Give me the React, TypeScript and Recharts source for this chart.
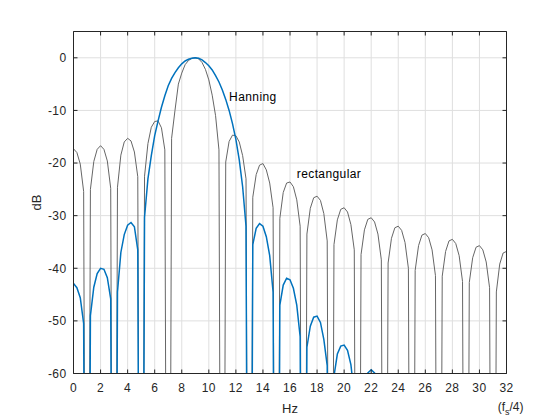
import React from "react";
import {
  LineChart,
  Line,
  XAxis,
  YAxis,
  CartesianGrid,
  ReferenceDot,
  Label,
} from "recharts";

// spectra sampled every 0.25 Hz from 0 to 32; a sample that lands in a null
// is far below the -60 dB floor, so it is marked with NULL_DB
const NULL_DB = -200;
const freqStep = 0.25;

const rectangularDb = [
  -17.3, -18.0, -20.2, -25.4, NULL_DB,
  -25.0, -19.7, -17.4, -16.7, -17.4, -19.6, -24.8, NULL_DB,
  -24.6, -18.5, -16.0, -15.3, -15.8, -17.9, -22.6, NULL_DB,
  -22.5, -16.3, -13.2, -12.1, -12.0, -13.3, -17.5, NULL_DB,
  -15.3, -10.0, -5.0, -2.9, -1.3, -0.5, -0.1, 0, -0.2, -0.9, -2.2, -4.2, -7.1, -11.0, -17.5, NULL_DB,
  -19.8, -15.9, -14.7, -14.8, -16.0, -18.6, -23.0, NULL_DB,
  -26.5, -22.2, -20.4, -20.1, -21.3, -23.8, -28.5, NULL_DB,
  -30.5, -25.6, -23.8, -23.6, -24.5, -27.0, -32.0, NULL_DB,
  -33.5, -28.6, -26.6, -26.3, -27.1, -29.6, -34.8, NULL_DB,
  -35.5, -30.8, -28.8, -28.5, -29.3, -31.7, -36.5, NULL_DB,
  -37.4, -32.7, -30.7, -30.4, -31.2, -33.5, -38.4, NULL_DB,
  -39.0, -34.3, -32.3, -32.0, -32.8, -35.1, -40.0, NULL_DB,
  -40.4, -35.7, -33.7, -33.4, -34.2, -36.5, -41.4, NULL_DB,
  -41.5, -36.8, -34.8, -34.5, -35.3, -37.6, -42.5, NULL_DB,
  -42.7, -38.0, -36.0, -35.7, -36.5, -38.8, -43.7, NULL_DB,
  -44.5, -39.2, -37.1, -36.8,
];

// the Hanning side lobes past 23 Hz are all under the floor
const hanningDb = [
  -42.9, -43.7, -45.6, -50.5, NULL_DB,
  -49.0, -43.6, -41.0, -40.0, -40.2, -41.8, -45.8, NULL_DB,
  -44.5, -37.0, -33.6, -31.8, -31.3, -32.1, -36.5, NULL_DB,
  -30.3, -23.0, -18.6, -14.8, -12.0, -9.4, -7.2, -5.3, -3.9, -2.8, -1.9, -1.15,
  -0.6, -0.28, -0.07, 0, -0.1, -0.4, -0.9, -1.5, -2.3, -3.4, -4.6, -6.1, -7.9,
  -10.0, -12.5, -15.5, -19.4, -24.5, -32.0, NULL_DB,
  -35.5, -32.4, -31.5, -32.0, -34.0, -37.6, -44.5, NULL_DB,
  -47.0, -43.2, -41.9, -42.2, -43.8, -47.0, -53.0, NULL_DB,
  -55.0, -51.0, -49.3, -49.1, -50.3, -53.5, -58.5, NULL_DB,
  -60.5, -56.3, -54.8, -54.6, -55.6, -58.3, -64.0, NULL_DB,
  -63.0, -61.0, -59.9, -59.3, -59.9, -61.5, -66.0, NULL_DB,
];

const xTicks = [0, 2, 4, 6, 8, 10, 12, 14, 16, 18, 20, 22, 24, 26, 28, 30, 32];
const yTicks = [-60, -50, -40, -30, -20, -10, 0];

const data = rectangularDb.map((rect, i) => ({
  f: i * freqStep,
  rect,
  hann: i < hanningDb.length ? hanningDb[i] : null,
}));

const AXIS = "#262626";
const FONT = "'Liberation Sans', Arial, Helvetica, sans-serif";

// plot box edges in px (follow from the chart margins and axis sizes below)
const BOX = { left: 73.5, top: 31.5, right: 506.5, bottom: 373.5 };
const TICK = 4;

// bottom tick label, plus the matching inward tick on the top edge;
// the first and last ticks also draw the top and right edges of the box
const XTick = (props: any) => {
  const { x, y, payload } = props;
  const v = payload.value;
  return (
    <g>
      <line x1={x} x2={x} y1={BOX.top} y2={BOX.top + TICK} stroke={AXIS} strokeWidth={1} />
      {v === xTicks[0] && (
        <line x1={BOX.left} x2={BOX.right} y1={BOX.top} y2={BOX.top} stroke={AXIS} strokeWidth={1} />
      )}
      {v === xTicks[xTicks.length - 1] && (
        <line x1={BOX.right} x2={BOX.right} y1={BOX.top} y2={BOX.bottom} stroke={AXIS} strokeWidth={1} />
      )}
      <text
        x={x}
        y={y}
        dy="0.71em"
        textAnchor="middle"
        fill={AXIS}
        fontSize={12}
        fontFamily={FONT}
        letterSpacing={0.4}
      >
        {v}
      </text>
    </g>
  );
};

// left tick label, plus the matching inward tick on the right edge
const YTick = (props: any) => {
  const { x, y, payload } = props;
  return (
    <g>
      <line x1={BOX.right - TICK} x2={BOX.right} y1={y} y2={y} stroke={AXIS} strokeWidth={1} />
      <text
        x={x}
        y={y}
        dy="0.355em"
        textAnchor="end"
        fill={AXIS}
        fontSize={12}
        fontFamily={FONT}
        letterSpacing={0.4}
      >
        {payload.value}
      </text>
    </g>
  );
};

const DbLabel = (props: any) => {
  const vb = props.viewBox;
  const cx = 36;
  const cy = vb.y + vb.height / 2;
  return (
    <text
      x={cx}
      y={cy}
      transform={`rotate(-90, ${cx}, ${cy})`}
      textAnchor="middle"
      dominantBaseline="central"
      fill={AXIS}
      fontSize={13}
      fontFamily={FONT}
    >
      dB
    </text>
  );
};

const HzLabel = (props: any) => {
  const vb = props.viewBox;
  return (
    <g fill={AXIS} fontFamily={FONT}>
      <text x={vb.x + vb.width / 2} y={413} textAnchor="middle" fontSize={13}>
        Hz
      </text>
      <text x={vb.x + vb.width + 17} y={411} textAnchor="end" fontSize={12}>
        (f
        <tspan fontSize={9} dy={4}>
          s
        </tspan>
        <tspan dy={-4}>/4)</tspan>
      </text>
    </g>
  );
};

const note = (value: string) => (props: any) => (
  <text
    x={props.cx}
    y={props.cy}
    dominantBaseline="central"
    fill="#000"
    fontSize={12}
    fontFamily={FONT}
    letterSpacing={0.4}
  >
    {value}
  </text>
);

export default function App() {
  return (
    <div
      style={{
        position: "absolute",
        left: 0,
        top: 0,
        width: 560,
        height: 420,
        background: "#fff",
      }}
    >
      <LineChart
        width={560}
        height={420}
        data={data}
        margin={{ top: 31.5, right: 53.5, bottom: 0, left: 0 }}
      >
        <CartesianGrid stroke="#dfdfdf" />
        <XAxis
          dataKey="f"
          type="number"
          domain={[0, 32]}
          ticks={xTicks}
          interval={0}
          allowDataOverflow
          height={46.5}
          stroke={AXIS}
          tickSize={-TICK}
          tickMargin={14}
          tick={<XTick />}
        >
          <Label content={HzLabel} />
        </XAxis>
        <YAxis
          type="number"
          domain={[-60, 5]}
          ticks={yTicks}
          interval={0}
          allowDataOverflow
          width={73.5}
          stroke={AXIS}
          tickSize={-TICK}
          tickMargin={11}
          tick={<YTick />}
        >
          <Label content={DbLabel} />
        </YAxis>
        <Line
          dataKey="rect"
          type="linear"
          stroke="#666666"
          strokeWidth={1}
          dot={false}
          isAnimationActive={false}
        />
        <Line
          dataKey="hann"
          type="linear"
          stroke="#0072BD"
          strokeWidth={1.5}
          dot={false}
          isAnimationActive={false}
        />
        <ReferenceDot x={11.5} y={-7.5} r={0} shape={note("Hanning")} />
        <ReferenceDot x={16.5} y={-22} r={0} shape={note("rectangular")} />
      </LineChart>
    </div>
  );
}
